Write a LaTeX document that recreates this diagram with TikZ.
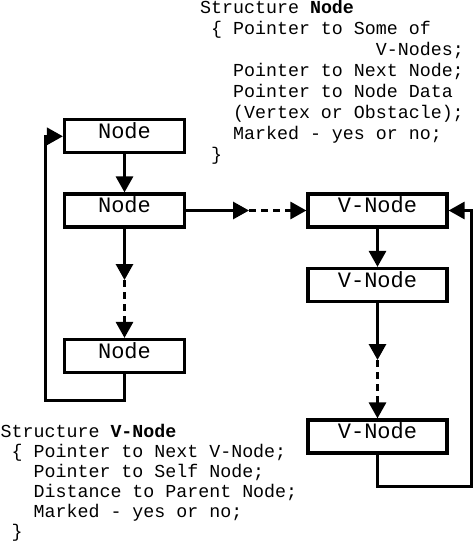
\documentclass[tikz,border=0pt]{standalone}
\usepackage{fontspec}
\setmonofont{Liberation Mono}
\usepackage{tikz}
\usetikzlibrary{arrows.meta}
\tikzset{
  structtext/.style={
    anchor=base west,inner sep=0pt,align=left,
    font=\ttfamily\fontsize{18.3}{21}\selectfont
  },
}

\begin{document}
\begin{tikzpicture}[x=1pt,y=-1pt,line width=3pt,>={Triangle[length=16pt,width=17pt]}]
		\useasboundingbox (0,0) rectangle (474,546);
		\tikzstyle{nodebox}=[draw,line width=3.2pt,minimum width=120pt,minimum height=33pt,inner sep=0pt,text height=12pt,text depth=8pt,font=\ttfamily\fontsize{22}{22}\selectfont]
		\tikzstyle{vnodebox}=[nodebox,minimum width=139pt]
		\tikzstyle{gapline}=[dash pattern=on 7pt off 5pt]

		\node[nodebox] (node1) at (124.5,136.3) {Node};
		\node[nodebox] (node2) at (124.5,210.5) {Node};
		\node[nodebox] (node3) at (124.5,356) {Node};

		\node[vnodebox] (vnode1) at (377.5,210.5) {V-Node};
		\node[vnodebox] (vnode2) at (377.5,285) {V-Node};
		\node[vnodebox] (vnode3) at (377.5,436.5) {V-Node};

		% base is the baseline of the last line
		\node[structtext] (nodestruct) at (198.7,160.2) {Structure \textbf{Node}\\
			~\{ Pointer to Some of\\
			~~~~~~~~~~~~~~~~V-Nodes;\\
			~~~Pointer to Next Node;\\
			~~~Pointer to Node Data\\
			~~~(Vertex or Obstacle);\\
			~~~Marked - yes or no;\\
			~\}};
		\node[structtext,font=\ttfamily\fontsize{18.3}{20}\selectfont] (vnodestruct) at (-0.8,537.3) {Structure \textbf{V-Node}\\
			~\{ Pointer to Next V-Node;\\
			~~~Pointer to Self Node;\\
			~~~Distance to Parent Node;\\
			~~~Marked - yes or no;\\
			~\}};

		\coordinate (nodegap) at (124.5,280);
		\coordinate (vnodegap) at (377.5,360);
		\coordinate (linkgap) at (249,210.5);
		\coordinate (nodeloop) at (45.5,400.5);
		\coordinate (vnodeloop) at (471.5,486.5);

		\draw[->] (node1) -- (node2);
		\draw[->] (node2) -- (nodegap);
		\draw[->,gapline] (nodegap) -- (node3);
		\draw[->] (node2) -- (linkgap);
		\draw[->,gapline] (linkgap) -- (vnode1);
		\draw[->] (vnode1) -- (vnode2);
		\draw[->] (vnode2) -- (vnodegap);
		\draw[->,gapline] (vnodegap) -- (vnode3);
		\draw[->] (node3.south) |- (nodeloop) |- (node1.west);
		\draw[->] (vnode3.south) |- (vnodeloop) |- (vnode1.east);

	\end{tikzpicture}
\end{document}
